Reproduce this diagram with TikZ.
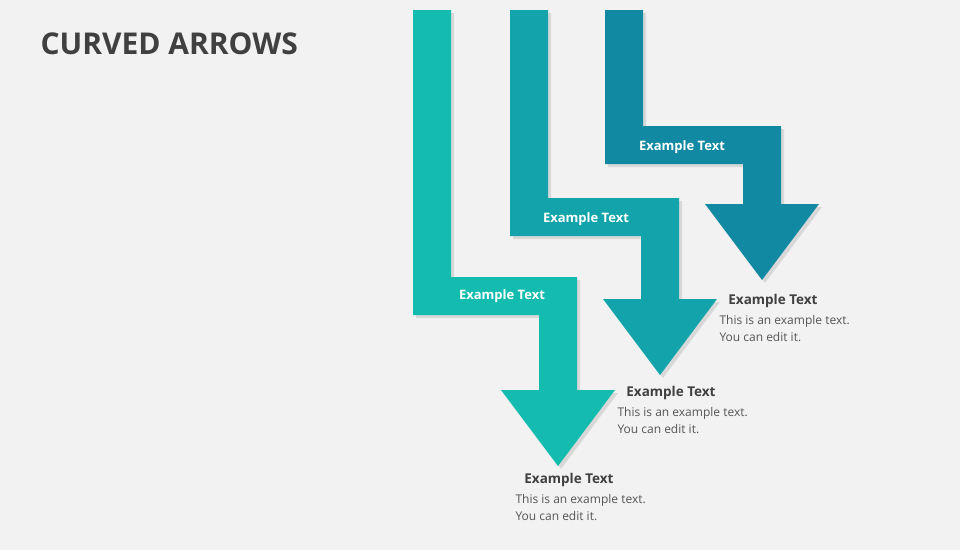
\documentclass[tikz,border=0pt]{standalone}
\usepackage{fontspec}
\setmainfont{Open Sans}
\definecolor{bg}{HTML}{F2F2F2}
\definecolor{ca}{HTML}{14BCB0}
\definecolor{cb}{HTML}{12A4AA}
\definecolor{cc}{HTML}{1289A2}
\definecolor{tx}{HTML}{404040}
\definecolor{bd}{HTML}{555555}
\begin{document}
\begin{tikzpicture}[x=1pt,y=-1pt,
  arrowshape/.style={draw=none},
  intext/.style={text=white,font=\bfseries\fontsize{13}{15}\selectfont},
  head/.style={text=tx,font=\bfseries\fontsize{13.5}{16}\selectfont},
  body/.style={text=bd,font=\fontsize{12}{17}\selectfont,align=left,anchor=north west}]
\fill[bg] (0,0) rectangle (960,540);
\node[anchor=west,text=tx,font=\bfseries\fontsize{30}{34}\selectfont] (title) at (37,34) {CURVED ARROWS};
% shadows
\foreach \x/\y/\w/\h/\d in {413/267/164/113/0,510/188/169/101/0,605/116/176/78/0}{}
\newcommand\myarrow[5]{% x0, ybend, xright, ydown, color
  \fill[black!25,opacity=0.5,shift={(3,3)}] (#1,0) -- (#1+38,0) -- (#1+38,#2) -- (#3,#2) -- (#3,#4) -- (#3+38,#4) -- (#3-19,#4+76) -- (#3-76,#4) -- (#3-38,#4) -- (#3-38,#2+38) -- (#1,#2+38) -- cycle;
  \fill[#5] (#1,0) -- (#1+38,0) -- (#1+38,#2) -- (#3,#2) -- (#3,#4) -- (#3+38,#4) -- (#3-19,#4+76) -- (#3-76,#4) -- (#3-38,#4) -- (#3-38,#2+38) -- (#1,#2+38) -- cycle;}
\myarrow{413}{267}{577}{380}{ca}
\myarrow{510}{188}{679}{289}{cb}
\myarrow{605}{116}{781}{194}{cc}
\fill[bg] (0,-10) rectangle (960,0);
\node[intext] (t1) at (502,286) {Example Text};
\node[intext] (t2) at (586,209) {Example Text};
\node[intext] (t3) at (682,137) {Example Text};
\node[head] (h1) at (569,470) {Example Text};
\node[body] (b1) at (512,481) {This is an example text.\\You can edit it.};
\node[head] (h2) at (671,383) {Example Text};
\node[body] (b2) at (614,394) {This is an example text.\\You can edit it.};
\node[head] (h3) at (773,291) {Example Text};
\node[body] (b3) at (716,302) {This is an example text.\\You can edit it.};
\end{tikzpicture}
\end{document}
